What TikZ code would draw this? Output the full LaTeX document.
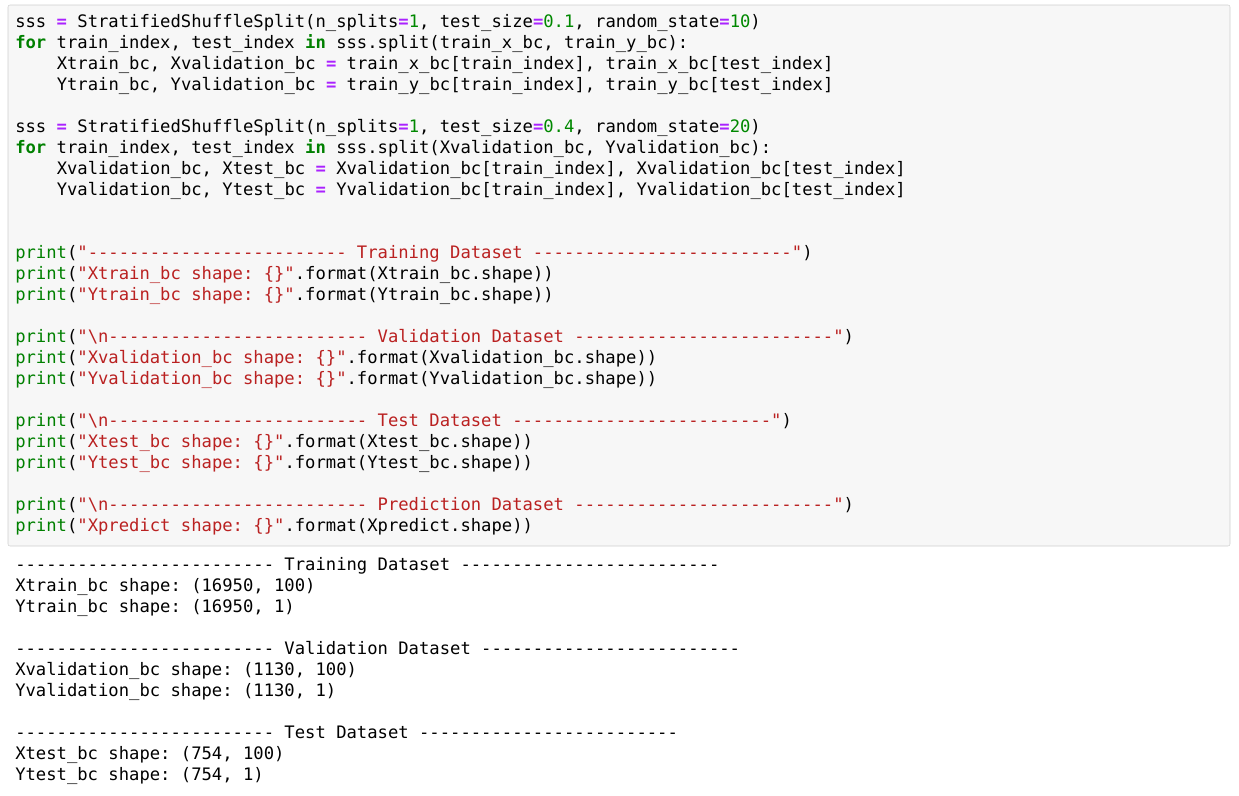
\documentclass[tikz,border=0pt]{standalone}
\usepackage{fontspec}
\setmonofont[Ligatures=NoCommon]{DejaVu Sans Mono}
\definecolor{kwc}{HTML}{008000}
\definecolor{opc}{HTML}{AA22FF}
\definecolor{stc}{HTML}{BA2121}
\definecolor{nmc}{HTML}{008800}
\newcommand\kw[1]{\textcolor{kwc}{\bfseries #1}}
\newcommand\op[1]{\textcolor{opc}{\bfseries #1}}
\newcommand\nm[1]{\textcolor{nmc}{#1}}
\newcommand\st[1]{\textcolor{stc}{#1}}
\newcommand\pr{\textcolor{kwc}{print}}
\newcommand\dd{-------------------------}
\begin{document}
\begin{tikzpicture}[x=0.75pt,y=-0.75pt,
  ln/.style={anchor=base west,inner sep=0,font=\ttfamily\fontsize{12.9}{15}\selectfont}]
\useasboundingbox (0,0) rectangle (1239,796);
\draw[draw=black!19,fill=black!3,rounded corners=1.5pt] (8,5) rectangle (1230,546);
\node[ln] (l1) at (15,27) {sss \op{=} StratifiedShuffleSplit(n\_splits\op{=}\nm{1}, test\_size\op{=}\nm{0.1}, random\_state\op{=}\nm{10})};
\node[ln] (l2) at (15,48) {\kw{for} train\_index, test\_index \kw{in} sss.split(train\_x\_bc, train\_y\_bc):};
\node[ln] (l3) at (56.5,69) {Xtrain\_bc, Xvalidation\_bc \op{=} train\_x\_bc[train\_index], train\_x\_bc[test\_index]};
\node[ln] (l4) at (56.5,90) {Ytrain\_bc, Yvalidation\_bc \op{=} train\_y\_bc[train\_index], train\_y\_bc[test\_index]};
\node[ln] (l5) at (15,132) {sss \op{=} StratifiedShuffleSplit(n\_splits\op{=}\nm{1}, test\_size\op{=}\nm{0.4}, random\_state\op{=}\nm{20})};
\node[ln] (l6) at (15,153) {\kw{for} train\_index, test\_index \kw{in} sss.split(Xvalidation\_bc, Yvalidation\_bc):};
\node[ln] (l7) at (56.5,174) {Xvalidation\_bc, Xtest\_bc \op{=} Xvalidation\_bc[train\_index], Xvalidation\_bc[test\_index]};
\node[ln] (l8) at (56.5,195) {Yvalidation\_bc, Ytest\_bc \op{=} Yvalidation\_bc[train\_index], Yvalidation\_bc[test\_index]};
\node[ln] (p1) at (15,258) {\pr(\st{"\dd{} Training Dataset \dd"})};
\node[ln] (p2) at (15,279) {\pr(\st{"Xtrain\_bc shape: \{\}"}.format(Xtrain\_bc.shape))};
\node[ln] (p3) at (15,300) {\pr(\st{"Ytrain\_bc shape: \{\}"}.format(Ytrain\_bc.shape))};
\node[ln] (p4) at (15,342) {\pr(\st{"\textbackslash n\dd{} Validation Dataset \dd"})};
\node[ln] (p5) at (15,363) {\pr(\st{"Xvalidation\_bc shape: \{\}"}.format(Xvalidation\_bc.shape))};
\node[ln] (p6) at (15,384) {\pr(\st{"Yvalidation\_bc shape: \{\}"}.format(Yvalidation\_bc.shape))};
\node[ln] (p7) at (15,426) {\pr(\st{"\textbackslash n\dd{} Test Dataset \dd"})};
\node[ln] (p8) at (15,447) {\pr(\st{"Xtest\_bc shape: \{\}"}.format(Xtest\_bc.shape))};
\node[ln] (p9) at (15,468) {\pr(\st{"Ytest\_bc shape: \{\}"}.format(Ytest\_bc.shape))};
\node[ln] (p10) at (15,510) {\pr(\st{"\textbackslash n\dd{} Prediction Dataset \dd"})};
\node[ln] (p11) at (15,531) {\pr(\st{"Xpredict shape: \{\}"}.format(Xpredict.shape))};
\node[ln] (o1) at (15,570) {\dd{} Training Dataset \dd};
\node[ln] (o2) at (15,591) {Xtrain\_bc shape: (16950, 100)};
\node[ln] (o3) at (15,612) {Ytrain\_bc shape: (16950, 1)};
\node[ln] (o4) at (15,654) {\dd{} Validation Dataset \dd};
\node[ln] (o5) at (15,675) {Xvalidation\_bc shape: (1130, 100)};
\node[ln] (o6) at (15,696) {Yvalidation\_bc shape: (1130, 1)};
\node[ln] (o7) at (15,738) {\dd{} Test Dataset \dd};
\node[ln] (o8) at (15,759) {Xtest\_bc shape: (754, 100)};
\node[ln] (o9) at (15,780) {Ytest\_bc shape: (754, 1)};
\end{tikzpicture}
\end{document}
